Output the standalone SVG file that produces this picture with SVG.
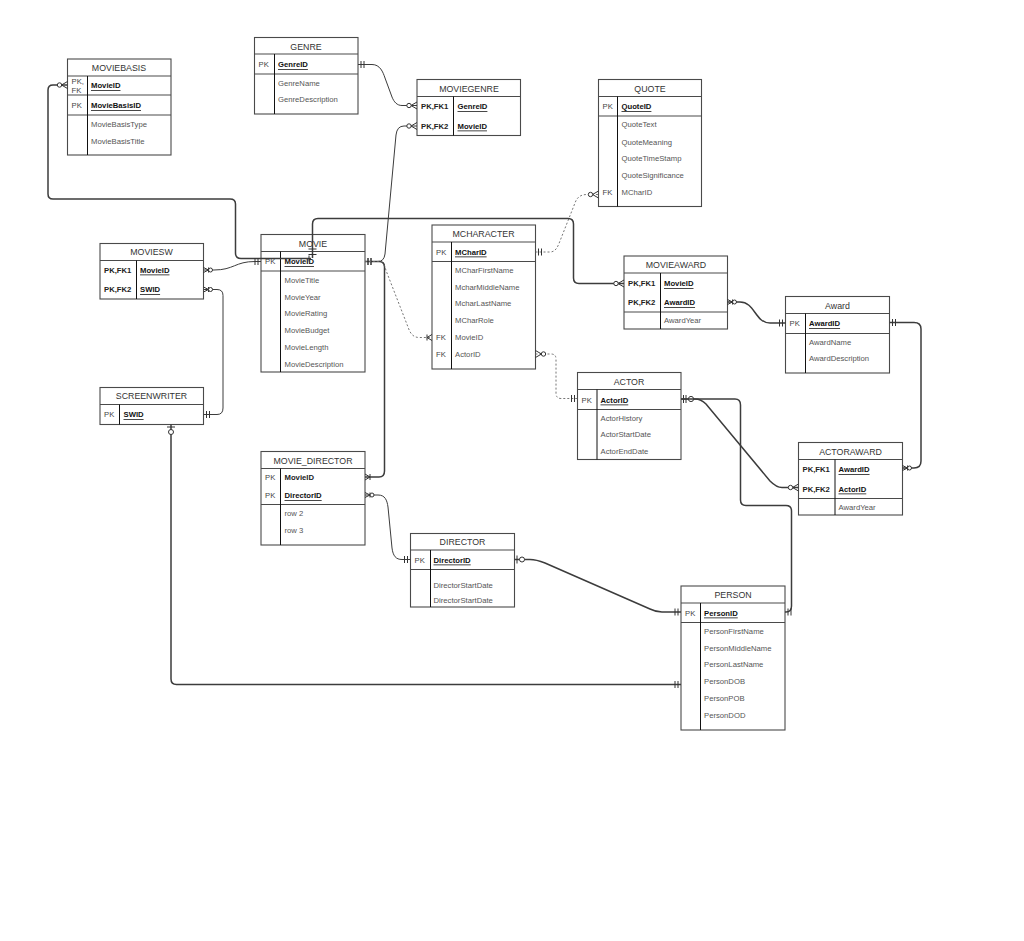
<svg xmlns="http://www.w3.org/2000/svg" width="1024" height="941" viewBox="0 0 1024 941">
<style>
text{font-family:"Liberation Sans",Arial,sans-serif;dominant-baseline:central}
.box{fill:#fff;stroke:#4a4a4a;stroke-width:1.1}
.ln{stroke:#4a4a4a;stroke-width:1.1;fill:none}
.col{stroke:#111;stroke-width:1;fill:none}
.t{font-size:8.8px;fill:#333;text-anchor:middle}
.k{font-size:7.7px;fill:#444}
.f{font-size:7.7px;fill:#555}
.b{font-size:7.7px;fill:#222;font-weight:bold}
.u{font-size:7.7px;fill:#111;font-weight:bold;text-decoration:underline}
.c{fill:none;stroke:#3c3c3c;stroke-width:1.5}
.c2{fill:none;stroke:#3c3c3c;stroke-width:1}
.d{fill:none;stroke:#666;stroke-width:.9;stroke-dasharray:2 2}
.mk{fill:none;stroke:#333;stroke-width:1}
.mc{fill:#fff;stroke:#333;stroke-width:1}
</style>
<defs>
<marker id="one" markerUnits="userSpaceOnUse" markerWidth="14" markerHeight="12" viewBox="-13 -6 14 12" refX="0" refY="0" orient="auto-start-reverse"><path class="mk" d="M-3 -3.5V3.5M-6 -3.5V3.5"/></marker>
<marker id="zm" markerUnits="userSpaceOnUse" markerWidth="16" markerHeight="12" viewBox="-15 -6 16 12" refX="0" refY="0" orient="auto-start-reverse"><path class="mk" d="M-6 0L0 -3.5M-6 0L0 3.5"/><circle class="mc" cx="-8" cy="0" r="2.2"/></marker>
<marker id="zmf" markerUnits="userSpaceOnUse" markerWidth="16" markerHeight="12" viewBox="-15 -6 16 12" refX="0" refY="0" orient="auto-start-reverse"><path class="mk" d="M-5 0L0 -2.5M-5 0L0 2.5M-5 -2.5V2.5"/><circle class="mc" cx="-7" cy="0" r="2"/></marker>
<marker id="oz" markerUnits="userSpaceOnUse" markerWidth="18" markerHeight="12" viewBox="-17 -6 18 12" refX="0" refY="0" orient="auto-start-reverse"><path class="mk" d="M-2.5 -4V4"/><circle class="mc" cx="-7.5" cy="0" r="2.5"/></marker>
<marker id="oo" markerUnits="userSpaceOnUse" markerWidth="18" markerHeight="12" viewBox="-17 -6 18 12" refX="0" refY="0" orient="auto-start-reverse"><path class="mk" d="M-2.5 -4V4M-5 -4V4"/><circle class="mc" cx="-10" cy="0" r="2.6"/></marker>
<marker id="om" markerUnits="userSpaceOnUse" markerWidth="14" markerHeight="12" viewBox="-13 -6 14 12" refX="0" refY="0" orient="auto-start-reverse"><path class="mk" d="M-5 -3V3M-5 0L0 -3M-5 0L0 3"/></marker>
<marker id="tk" markerUnits="userSpaceOnUse" markerWidth="14" markerHeight="12" viewBox="-13 -6 14 12" refX="0" refY="0" orient="auto-start-reverse"><path class="mk" d="M-2 -3V3"/></marker>
<marker id="pl" markerUnits="userSpaceOnUse" markerWidth="16" markerHeight="12" viewBox="-15 -6 16 12" refX="0" refY="0" orient="auto-start-reverse"><path class="mk" d="M-3.5 -4V4M-9 -4V4"/></marker>
</defs>

<g id="MOVIEBASIS">
<rect class="box" x="67.5" y="59" width="103.5" height="96"/>
<path class="ln" d="M67.5 76H171M67.5 95H171M67.5 115H171"/><path class="col" d="M87.5 76V155"/>
<text class="t" x="119" y="68">MOVIEBASIS</text>
<text class="k" x="71.5" y="81.5">PK,</text><text class="k" x="71.5" y="90">FK</text>
<text class="u" x="91" y="85.5">MovieID</text>
<text class="k" x="71.5" y="105">PK</text><text class="u" x="91" y="105.5">MovieBasisID</text>
<text class="f" x="91" y="124">MovieBasisType</text><text class="f" x="91" y="141">MovieBasisTitle</text>
</g>

<g id="GENRE">
<rect class="box" x="254.5" y="37.5" width="103.5" height="76.5"/>
<path class="ln" d="M254.5 54H358M254.5 74H358"/><path class="col" d="M274.5 54V114"/>
<text class="t" x="306" y="46.5">GENRE</text>
<text class="k" x="258.5" y="64.5">PK</text><text class="u" x="278" y="64.5">GenreID</text>
<text class="f" x="278" y="83">GenreName</text><text class="f" x="278" y="99.5">GenreDescription</text>
</g>

<g id="MOVIEGENRE">
<rect class="box" x="417" y="79.5" width="103.5" height="56"/>
<path class="ln" d="M417 96.5H520.5"/><path class="col" d="M453.5 96.5V135.5"/>
<text class="t" x="469" y="88.5">MOVIEGENRE</text>
<text class="b" x="421" y="106.5">PK,FK1</text><text class="u" x="457.5" y="106.5">GenreID</text>
<text class="b" x="421" y="126">PK,FK2</text><text class="u" x="457.5" y="126">MovieID</text>
</g>

<g id="QUOTE">
<rect class="box" x="598.5" y="79.5" width="103" height="127"/>
<path class="ln" d="M598.5 96.5H701.5M598.5 116H701.5"/><path class="col" d="M617.5 96.5V206.5"/>
<text class="t" x="650" y="88.5">QUOTE</text>
<text class="k" x="602.5" y="106.5">PK</text><text class="u" x="621.5" y="106.5">QuoteID</text>
<text class="f" x="621.5" y="124.5">QuoteText</text><text class="f" x="621.5" y="142">QuoteMeaning</text>
<text class="f" x="621.5" y="158.5">QuoteTimeStamp</text><text class="f" x="621.5" y="175">QuoteSignificance</text>
<text class="k" x="602.5" y="192">FK</text><text class="f" x="621.5" y="192">MCharID</text>
</g>

<g id="MOVIESW">
<rect class="box" x="100" y="243.5" width="103.5" height="55.5"/>
<path class="ln" d="M100 260.5H203.5"/><path class="col" d="M136.5 260.5V299"/>
<text class="t" x="151.500" y="252">MOVIESW</text>
<text class="b" x="104" y="270">PK,FK1</text><text class="u" x="140" y="270">MovieID</text>
<text class="b" x="104" y="289.500">PK,FK2</text><text class="u" x="140" y="289.500">SWID</text>
</g>

<g id="MOVIE">
<rect class="box" x="261" y="234.500" width="104" height="137.500"/>
<path class="ln" d="M261 251.500H365M261 271H365"/><path class="col" d="M280.500 251.500V372"/>
<text class="t" x="313" y="243.500">MOVIE</text>
<text class="k" x="265" y="261.500">PK</text><text class="u" x="284.500" y="261.500">MovieID</text>
<text class="f" x="284.500" y="280">MovieTitle</text><text class="f" x="284.500" y="297">MovieYear</text>
<text class="f" x="284.500" y="313.500">MovieRating</text><text class="f" x="284.500" y="330.500">MovieBudget</text>
<text class="f" x="284.500" y="347.500">MovieLength</text><text class="f" x="284.500" y="364">MovieDescription</text>
</g>

<g id="SCREENWRITER">
<rect class="box" x="100" y="387.500" width="103.500" height="37"/>
<path class="ln" d="M100 404.500H203.500"/><path class="col" d="M119.500 404.500V424.500"/>
<text class="t" x="151.500" y="396">SCREENWRITER</text>
<text class="k" x="104" y="414.500">PK</text><text class="u" x="123.500" y="414.500">SWID</text>
</g>

<g id="MCHARACTER">
<rect class="box" x="432" y="225" width="103.500" height="144"/>
<path class="ln" d="M432 242H535.500M432 261.500H535.500"/><path class="col" d="M451.500 242V369"/>
<text class="t" x="483.500" y="233.500">MCHARACTER</text>
<text class="k" x="436" y="252">PK</text><text class="u" x="455" y="252">MCharID</text>
<text class="f" x="455" y="270">MCharFirstName</text><text class="f" x="455" y="287">McharMiddleName</text>
<text class="f" x="455" y="303.500">McharLastName</text><text class="f" x="455" y="320.500">MCharRole</text>
<text class="k" x="436" y="337.500">FK</text><text class="f" x="455" y="337.500">MovieID</text>
<text class="k" x="436" y="354">FK</text><text class="f" x="455" y="354">ActorID</text>
</g>

<g id="MOVIEAWARD">
<rect class="box" x="624" y="256" width="103.500" height="73"/>
<path class="ln" d="M624 273H727.500M624 312H727.500"/><path class="col" d="M660.500 273V329"/>
<text class="t" x="676" y="265">MOVIEAWARD</text>
<text class="b" x="628" y="283.500">PK,FK1</text><text class="u" x="664" y="283.500">MovieID</text>
<text class="b" x="628" y="302.500">PK,FK2</text><text class="u" x="664" y="302.500">AwardID</text>
<text class="f" x="664" y="320.500">AwardYear</text>
</g>

<g id="Award">
<rect class="box" x="785.500" y="296.500" width="104" height="76.500"/>
<path class="ln" d="M785.500 313.500H889.500M785.500 333.500H889.500"/><path class="col" d="M805.500 313.500V373"/>
<text class="t" x="837.500" y="305.500">Award</text>
<text class="k" x="789.500" y="323.500">PK</text><text class="u" x="809" y="323.500">AwardID</text>
<text class="f" x="809" y="342">AwardName</text><text class="f" x="809" y="358.500">AwardDescription</text>
</g>

<g id="ACTOR">
<rect class="box" x="577.500" y="372.500" width="103.500" height="87"/>
<path class="ln" d="M577.500 389.500H681M577.500 409.500H681"/><path class="col" d="M597 389.500V459.500"/>
<text class="t" x="629" y="381.500">ACTOR</text>
<text class="k" x="581.500" y="400">PK</text><text class="u" x="600.500" y="400">ActorID</text>
<text class="f" x="600.500" y="418">ActorHistory</text><text class="f" x="600.500" y="434.500">ActorStartDate</text>
<text class="f" x="600.500" y="451.500">ActorEndDate</text>
</g>

<g id="ACTORAWARD">
<rect class="box" x="798.500" y="442.500" width="104" height="72.500"/>
<path class="ln" d="M798.500 459.500H902.500M798.500 498.500H902.500"/><path class="col" d="M835 459.500V515"/>
<text class="t" x="850.500" y="451.500">ACTORAWARD</text>
<text class="b" x="802.500" y="469.500">PK,FK1</text><text class="u" x="838.500" y="469.500">AwardID</text>
<text class="b" x="802.500" y="489">PK,FK2</text><text class="u" x="838.500" y="489">ActorID</text>
<text class="f" x="838.500" y="507">AwardYear</text>
</g>

<g id="MOVIE_DIRECTOR">
<rect class="box" x="261" y="451.500" width="104" height="93.500"/>
<path class="ln" d="M261 468.500H365M261 504.500H365"/><path class="col" d="M280.500 468.500V545"/>
<text class="t" x="313" y="460.500">MOVIE_DIRECTOR</text>
<text class="k" x="265" y="477">PK</text><text class="b" x="284.500" y="477">MovieID</text>
<text class="k" x="265" y="495.500">PK</text><text class="u" x="284.500" y="495.500">DirectorID</text>
<text class="f" x="284.500" y="513.500">row 2</text><text class="f" x="284.500" y="530.500">row 3</text>
</g>

<g id="DIRECTOR">
<rect class="box" x="410.500" y="533.500" width="104" height="73.500"/>
<path class="ln" d="M410.500 550H514.500M410.500 569.500H514.500"/><path class="col" d="M430.500 550V607"/>
<text class="t" x="462.500" y="542">DIRECTOR</text>
<text class="k" x="414.500" y="560">PK</text><text class="u" x="433.500" y="560">DirectorID</text>
<text class="f" x="433.500" y="585">DirectorStartDate</text><text class="f" x="433.500" y="600">DirectorStartDate</text>
</g>

<g id="PERSON">
<rect class="box" x="681" y="586" width="104" height="144"/>
<path class="ln" d="M681 603H785M681 622.500H785"/><path class="col" d="M700.500 603V730"/>
<text class="t" x="733" y="595">PERSON</text>
<text class="k" x="685" y="613">PK</text><text class="u" x="704" y="613">PersonID</text>
<text class="f" x="704" y="631.500">PersonFirstName</text><text class="f" x="704" y="648">PersonMiddleName</text>
<text class="f" x="704" y="664.500">PersonLastName</text><text class="f" x="704" y="681.500">PersonDOB</text>
<text class="f" x="704" y="698.500">PersonPOB</text><text class="f" x="704" y="715">PersonDOD</text>
</g>

<g id="connectors">
<path class="c" marker-start="url(#zm)" marker-end="url(#tk)" d="M67.500 85H53Q48 85 48 90V194Q48 199 53 199H230Q235.500 199 235.500 204V253Q235.500 258.500 241 258.500H311"/>
<path class="c" marker-start="url(#zm)" marker-end="url(#pl)" d="M624 283.500H579Q573.500 283.500 573.500 278V224Q573.500 218.500 568 218.500H318Q312.500 218.500 312.500 224V258"/>
<path class="c2" marker-start="url(#zmf)" marker-end="url(#one)" d="M203.500 270H214C234 270 235 261.500 255 261.500H261"/>
<path class="c2" marker-start="url(#zmf)" marker-end="url(#one)" d="M203.500 289.500H217Q223 289.500 223 295.500V408Q223 414.500 217 414.500H203.500"/>
<path class="c" marker-start="url(#oz)" marker-end="url(#one)" d="M171 424.500V679Q171 684.500 176.500 684.500H681"/>
<path class="c2" marker-start="url(#one)" marker-end="url(#zm)" d="M358 64.500H372C380 64.500 383 72 385 78L392 97C394 102 397 105.500 402 105.500H417"/>
<path class="c2" marker-start="url(#one)" marker-end="url(#zm)" d="M365 261.500H378Q384 261.500 385 254L396 135Q397 126 404 126H417"/>
<path class="c" marker-start="url(#one)" marker-end="url(#om)" d="M365 261.500H379Q384.500 261.500 384.500 267V471Q384.500 477 379 477H365"/>
<path class="d" marker-end="url(#om)" d="M365 261.500H379C384 261.500 385 268 387 273L408 327C410 333 413 337.500 419 337.500H432"/>
<path class="d" marker-start="url(#one)" marker-end="url(#zm)" d="M535.500 252H550C556 252 558 246 560 241L575 203C577 197 581 194.500 587 194.500H598.500"/>
<path class="d" marker-start="url(#zm)" marker-end="url(#one)" d="M535.500 354H551Q556 354 556 359V393Q556 398.500 561 398.500H577.500"/>
<path class="c" marker-start="url(#zmf)" marker-end="url(#one)" d="M727.500 302H740C755 302 755 323 770 323H785.500"/>
<path class="c" marker-start="url(#one)" marker-end="url(#zmf)" d="M889.500 322.500H914Q921 322.500 921 329V461Q921 468 914 468H902.500"/>
<path class="c" marker-start="url(#oo)" marker-end="url(#zm)" d="M681 399H695C700 399 703 401 706 404L770 481C774 485 777 487.500 782 487.500H798.500"/>
<path class="c" marker-end="url(#one)" d="M681 399H735Q740.500 399 740.500 405V500Q740.500 505.500 746 505.500H786Q791.500 505.500 791.500 511V606Q791.500 612 786 612H785"/>
<path class="c2" marker-start="url(#zmf)" marker-end="url(#one)" d="M365 495H378C385 495 387 500 388 507L392 548C393 556 396 559.500 402 559.500H410.500"/>
<path class="c" marker-start="url(#oz)" marker-end="url(#one)" d="M514.500 559.500H530C536 559.500 540 561 545 563L650 609C654 611 657 612 662 612H681"/>
</g>
</svg>
